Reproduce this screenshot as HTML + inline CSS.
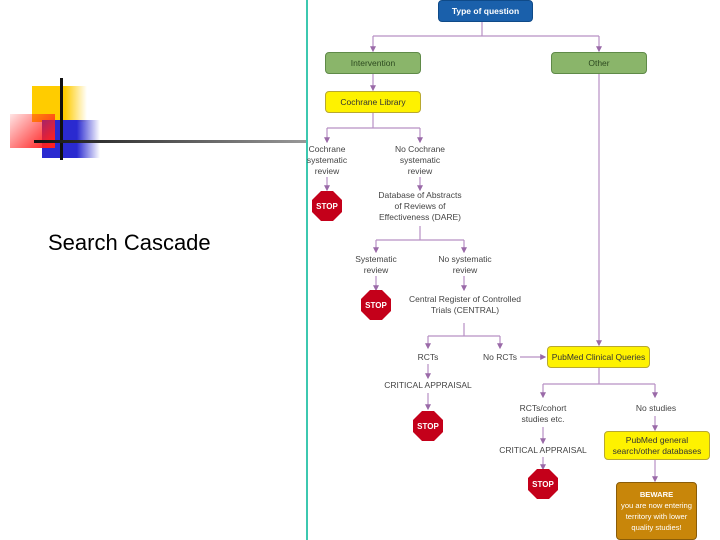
<!DOCTYPE html>
<html><head><meta charset="utf-8"><style>
html,body{margin:0;padding:0;background:#fff;width:720px;height:540px;overflow:hidden;position:relative;font-family:"Liberation Sans",sans-serif}
.a{position:absolute}
.t{position:absolute;font-size:8.5px;color:#444;text-align:center;line-height:11px;transform:translateX(-50%);white-space:nowrap}
.b{position:absolute;box-sizing:border-box;border-radius:4px;font-size:8.5px;display:flex;align-items:center;justify-content:center;text-align:center;line-height:11px}
</style></head><body>
<div class="a" style="left:32px;top:86px;width:55px;height:36px;background:linear-gradient(90deg,#ffcc00 60%,rgba(255,204,0,0))"></div>
<div class="a" style="left:42px;top:120px;width:58px;height:38px;background:linear-gradient(90deg,#2a2ad0 60%,rgba(42,42,208,0))"></div>
<div class="a" style="left:10px;top:114px;width:45px;height:34px;background:linear-gradient(135deg,rgba(255,0,0,0.1),#ff2020 90%)"></div>
<div class="a" style="left:60px;top:78px;width:3px;height:82px;background:#111"></div>
<div class="a" style="left:34px;top:140px;width:273px;height:3px;background:linear-gradient(90deg,#111,#999)"></div>
<div class="a" style="left:306px;top:0;width:2px;height:540px;background:#3cc8b0"></div>
<div class="a" style="left:48px;top:230px;font-size:22px;color:#000">Search Cascade</div>

<svg class="a" style="left:0;top:0" width="720" height="540">
<defs><marker id="m" markerWidth="5" markerHeight="5" refX="4" refY="2.5" orient="auto"><path d="M0,0L5,2.5L0,5z" fill="#9a6aa8"/></marker>
<g id="stop"><polygon points="-6,-15 6,-15 15,-6 15,6 6,15 -6,15 -15,6 -15,-6" fill="#c4001a"/></g></defs>
<g stroke="#b890c4" stroke-width="1.2" fill="none">
<path d="M482,22V36M373,36H599"/><path d="M373,36V51" marker-end="url(#m)"/><path d="M599,36V51" marker-end="url(#m)"/>
<path d="M373,74V90" marker-end="url(#m)"/>
<path d="M373,112V128M327,128H420"/><path d="M327,128V142" marker-end="url(#m)"/><path d="M420,128V142" marker-end="url(#m)"/>
<path d="M327,177V190" marker-end="url(#m)"/><path d="M420,177V190" marker-end="url(#m)"/>
<path d="M420,226V240M376,240H464"/><path d="M376,240V252" marker-end="url(#m)"/><path d="M464,240V252" marker-end="url(#m)"/>
<path d="M376,276V290" marker-end="url(#m)"/><path d="M464,276V290" marker-end="url(#m)"/>
<path d="M464,323V336M428,336H500"/><path d="M428,336V348" marker-end="url(#m)"/><path d="M500,336V348" marker-end="url(#m)"/>
<path d="M520,357H545" marker-end="url(#m)"/>
<path d="M599,74V345" marker-end="url(#m)"/>
<path d="M428,364V378" marker-end="url(#m)"/><path d="M428,393V409" marker-end="url(#m)"/>
<path d="M599,367V384M543,384H655"/><path d="M543,384V397" marker-end="url(#m)"/><path d="M655,384V397" marker-end="url(#m)"/>
<path d="M543,427V443" marker-end="url(#m)"/><path d="M543,457V469" marker-end="url(#m)"/>
<path d="M655,416V430" marker-end="url(#m)"/><path d="M655,459V481" marker-end="url(#m)"/>
</g>
<g font-family="Liberation Sans" font-weight="bold" font-size="8" fill="#fff" text-anchor="middle">
<use href="#stop" x="327" y="206"/><text x="327" y="209">STOP</text>
<use href="#stop" x="376" y="305"/><text x="376" y="308">STOP</text>
<use href="#stop" x="428" y="426"/><text x="428" y="429">STOP</text>
<use href="#stop" x="543" y="484"/><text x="543" y="487">STOP</text>
</g>
</svg>

<div class="b" style="left:438px;top:0;width:95px;height:22px;background:#1a60ab;border:1px solid #0f4a88;color:#fff;font-weight:bold">Type of question</div>
<div class="b" style="left:325px;top:52px;width:96px;height:22px;background:#8ab56a;border:1px solid #5f8a48;color:#2d4a20">Intervention</div>
<div class="b" style="left:551px;top:52px;width:96px;height:22px;background:#8ab56a;border:1px solid #5f8a48;color:#2d4a20">Other</div>
<div class="b" style="left:325px;top:91px;width:96px;height:22px;background:#fef200;border:1px solid #b8a830;color:#333">Cochrane Library</div>
<div class="b" style="left:547px;top:346px;width:103px;height:22px;background:#fef200;border:1px solid #b8a830;color:#333">PubMed Clinical Queries</div>
<div class="b" style="left:604px;top:431px;width:106px;height:29px;background:#fef200;border:1px solid #b8a830;color:#333">PubMed general<br>search/other databases</div>
<div class="b" style="left:616px;top:482px;width:81px;height:58px;background:#c8860a;border:1px solid #8a5c08;color:#fff;font-size:7.6px">
<div><b>BEWARE</b><br>you are now entering<br>territory with lower<br>quality studies!</div></div>

<div class="t" style="left:327px;top:144px">Cochrane<br>systematic<br>review</div>
<div class="t" style="left:420px;top:144px">No Cochrane<br>systematic<br>review</div>
<div class="t" style="left:420px;top:190px">Database of Abstracts<br>of Reviews of<br>Effectiveness (DARE)</div>
<div class="t" style="left:376px;top:254px">Systematic<br>review</div>
<div class="t" style="left:465px;top:254px">No systematic<br>review</div>
<div class="t" style="left:465px;top:294px">Central Register of Controlled<br>Trials (CENTRAL)</div>
<div class="t" style="left:428px;top:352px">RCTs</div>
<div class="t" style="left:500px;top:352px">No RCTs</div>
<div class="t" style="left:428px;top:380px">CRITICAL APPRAISAL</div>
<div class="t" style="left:543px;top:403px">RCTs/cohort<br>studies etc.</div>
<div class="t" style="left:656px;top:403px">No studies</div>
<div class="t" style="left:543px;top:445px">CRITICAL APPRAISAL</div>
</body></html>
